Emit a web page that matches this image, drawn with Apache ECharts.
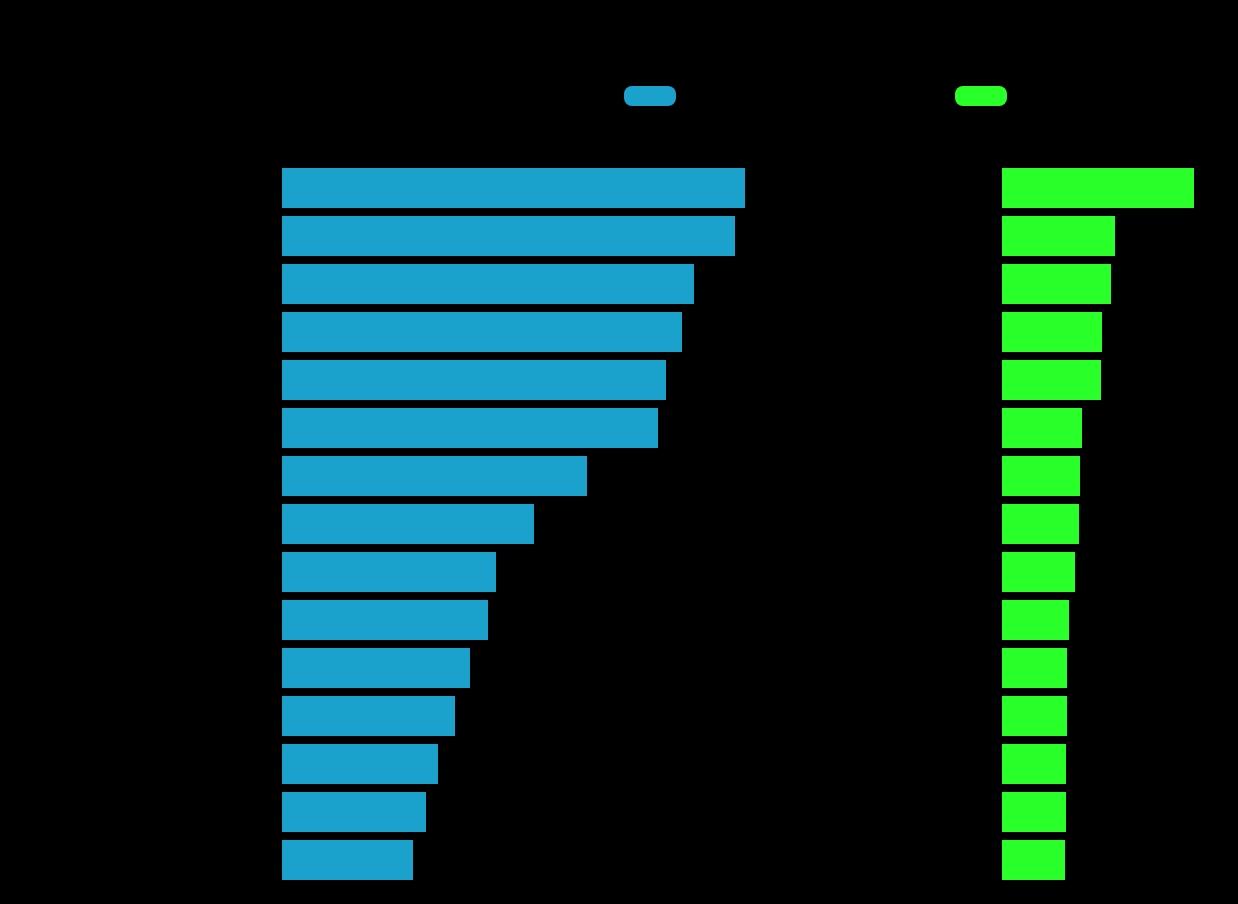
<!DOCTYPE html>
<html>
<head>
<meta charset="utf-8">
<title>chart</title>
<script src="https://cdn.jsdelivr.net/npm/echarts@6/dist/echarts.min.js"></script>
<style>
  html, body { margin: 0; padding: 0; background: #000; }
  #main { width: 1238px; height: 904px; }
</style>
</head>
<body>
<div id="main"></div>
<script>
// categories, top to bottom
const categories = ["Item 1", "Item 2", "Item 3", "Item 4", "Item 5", "Item 6", "Item 7", "Item 8",
  "Item 9", "Item 10", "Item 11", "Item 12", "Item 13", "Item 14", "Item 15"]
// left panel values
const countValues = [92.6, 90.6, 82.4, 80.0, 76.8, 75.2, 61.0, 50.4, 42.8, 41.2, 37.6, 34.6, 31.2, 28.8, 26.2]
// right panel values
const shareValues = [96.0, 56.5, 54.5, 50.0, 49.5, 40.0, 39.0, 38.5, 36.5, 33.5, 32.5, 32.5, 32.0, 32.0, 31.5]
const seriesNames = ["Count", "Share"]

// colours
const blue = "#1aa1cc"
const green = "#29ff29"
const textColor = "#000000"
// pill shaped legend icon (52 x 20)
const pillIcon = 'path://M8,0 H44 A8,8 0 0 1 52,8 V12 A8,8 0 0 1 44,20 H8 A8,8 0 0 1 0,12 V8 A8,8 0 0 1 8,0 Z'

const chart = echarts.init(document.getElementById('main'))
const option = {
  backgroundColor: '#000000',
  animation: false,
  legend: [
    {
      data: [seriesNames[0]],
      left: 619,
      top: 81,
      icon: pillIcon,
      itemWidth: 52,
      itemHeight: 20,
      textStyle: { color: textColor }
    },
    {
      data: [seriesNames[1]],
      left: 950,
      top: 81,
      icon: pillIcon,
      itemWidth: 52,
      itemHeight: 20,
      textStyle: { color: textColor }
    }
  ],
  grid: [
    { left: 282, width: 500, top: 164, height: 720 },
    { left: 1002, width: 200, top: 164, height: 720 }
  ],
  xAxis: [
    { gridIndex: 0, type: 'value', min: 0, max: 100, show: false },
    { gridIndex: 1, type: 'value', min: 0, max: 100, show: false }
  ],
  yAxis: [
    {
      gridIndex: 0, type: 'category', data: categories, inverse: true,
      axisLine: { show: false }, axisTick: { show: false },
      axisLabel: { color: textColor }
    },
    {
      gridIndex: 1, type: 'category', data: categories, inverse: true,
      axisLine: { show: false }, axisTick: { show: false },
      axisLabel: { show: false }
    }
  ],
  series: [
    {
      name: seriesNames[0],
      type: 'bar',
      xAxisIndex: 0,
      yAxisIndex: 0,
      barWidth: 40,
      itemStyle: { color: blue },
      data: countValues
    },
    {
      name: seriesNames[1],
      type: 'bar',
      xAxisIndex: 1,
      yAxisIndex: 1,
      barWidth: 40,
      itemStyle: { color: green },
      data: shareValues
    }
  ]
}
chart.setOption(option)
</script>
</body>
</html>
